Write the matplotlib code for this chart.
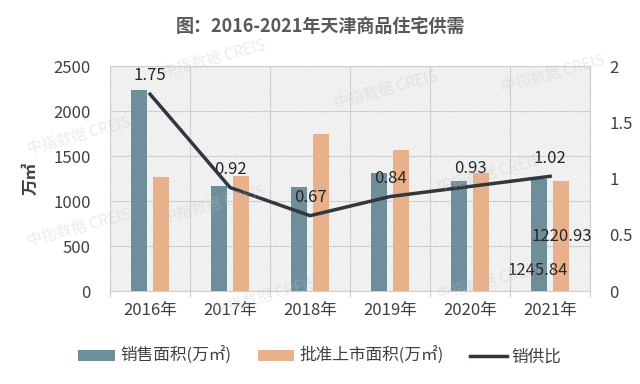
import numpy as np
import matplotlib.pyplot as plt

plt.rcParams['font.family'] = ['Noto Sans CJK SC', 'DejaVu Sans']
plt.rcParams['hatch.linewidth'] = 0.5

years = ['2016年', '2017年', '2018年', '2019年', '2020年', '2021年']
sales = [2233, 1167, 1155, 1311, 1222, 1245.84]
supply = [1267, 1278, 1744, 1567, 1311, 1220.93]
ratio = [1.75, 0.92, 0.67, 0.84, 0.93, 1.02]

c_sales = '#6f8e9b'
c_supply = '#e9b08c'
c_line = '#2f3740'
txt = '#404040'

fig = plt.figure(figsize=(6.4, 3.84), dpi=100)
ax = fig.add_axes([0.172, 0.242, 0.75, 0.586])
x = np.arange(len(years))

# hatched plot background
ax.add_patch(plt.Rectangle((0, 0), 1, 1, transform=ax.transAxes, facecolor='white',
                           edgecolor='#dddddd', hatch='\\' * 14, lw=0.8, zorder=0))
ax.bar(x - 0.14, sales, 0.2, color=c_sales, zorder=3, label='销售面积(万㎡)')
ax.bar(x + 0.14, supply, 0.2, color=c_supply, zorder=3, label='批准上市面积(万㎡)')
ax.set_xlim(-0.5, 5.5)
ax.set_ylim(0, 2500)
ax.set_yticks(range(0, 2501, 500))
ax.set_xticks(x, years)
ax.set_xticks(np.arange(-0.5, 6, 1), minor=True)
ax.tick_params(axis='x', which='major', length=0, pad=8, labelsize=12)
ax.tick_params(axis='x', which='minor', length=4, color='#bfbfbf')
ax.tick_params(axis='y', length=0, pad=14, labelsize=12)
ax.tick_params(labelcolor=txt)
ax.grid(axis='y', color='#cfcfcf', lw=0.8, zorder=1)
ax.grid(axis='x', which='minor', color='#cfcfcf', lw=0.8, zorder=1)
for s in ax.spines.values():
    s.set_color('#cfcfcf')
ax.set_ylabel('万㎡', fontsize=12, fontweight='bold', color=txt, labelpad=10)

ax2 = ax.twinx()
ax2.plot(x, ratio, color=c_line, lw=2.5, zorder=4, label='销供比')
ax2.set_ylim(0, 2)
ax2.set_yticks([0, 0.5, 1, 1.5, 2], ['0', '0.5', '1', '1.5', '2'])
ax2.tick_params(axis='y', length=0, pad=14, labelsize=12, labelcolor=txt)
for s in ax2.spines.values():
    s.set_visible(False)

for xi, r in zip(x, ratio):
    ax2.annotate(f'{r:.2f}', (xi, r), xytext=(0, 7), textcoords='offset points',
                 ha='center', va='bottom', fontsize=12, color='#262626')
ax.text(x[5] - 0.16, 230, f'{sales[5]:.2f}', ha='center', va='center', fontsize=12, color='#262626', zorder=5)
ax.text(x[5] + 0.14, 610, f'{supply[5]:.2f}', ha='center', va='center', fontsize=12, color='#262626', zorder=5)

# faint watermarks
for wx, wy in [(0.04, 0.6), (0.04, 0.36), (0.25, 0.8), (0.52, 0.72), (0.25, 0.42),
               (0.68, 0.5), (0.33, 0.18), (0.68, 0.22), (0.78, 0.76)]:
    fig.text(wx, wy, '中指数据 CREIS', rotation=15, fontsize=11, color='#c0c0c0', alpha=0.3, zorder=10)

fig.suptitle('图：2016-2021年天津商品住宅供需', y=0.955, fontsize=13, fontweight='bold', color='#595959')

h1, l1 = ax.get_legend_handles_labels()
h2, l2 = ax2.get_legend_handles_labels()
fig.legend(h1 + h2, l1 + l2, loc='lower center', bbox_to_anchor=(0.5, 0.01), ncol=3,
           frameon=False, fontsize=12, handlelength=2.2, handleheight=0.6, handletextpad=0.3,
           columnspacing=1.6, labelcolor=txt)

fig.savefig('out.png', dpi=100)
